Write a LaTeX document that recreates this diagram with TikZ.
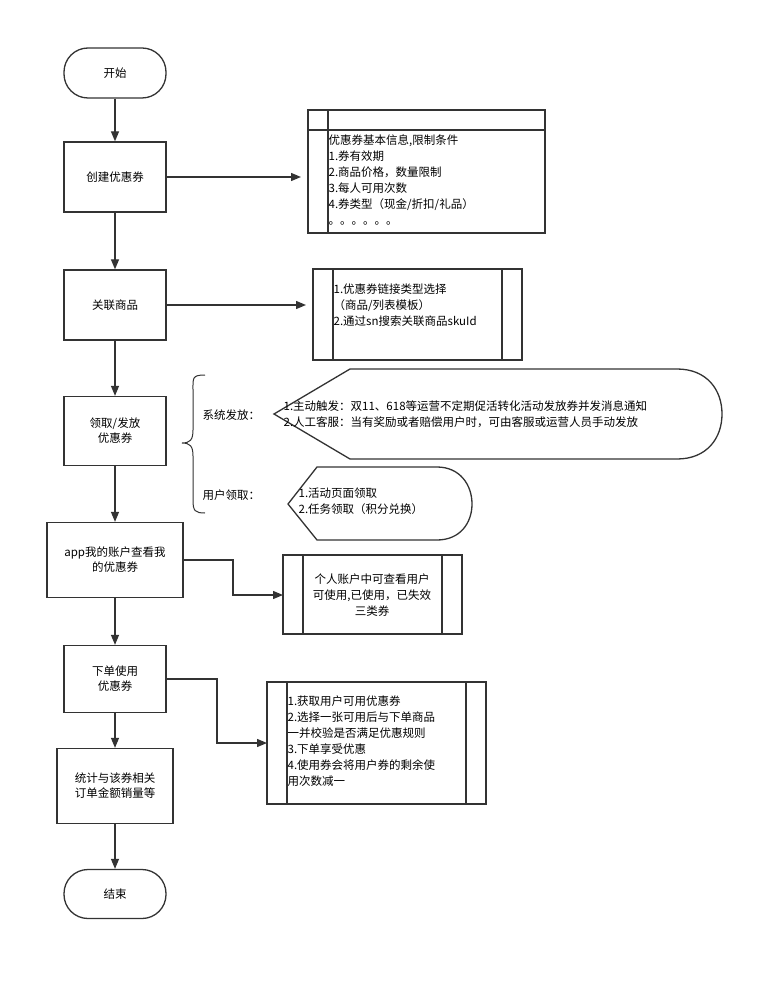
\documentclass[tikz,border=0pt]{standalone}
\usepackage{fontspec}
\setmainfont{Noto Sans CJK SC}
\usetikzlibrary{arrows.meta,decorations.pathreplacing}
\begin{document}
\begin{tikzpicture}[x=1pt,y=-1pt,line width=1.3pt,draw=black!80,
  proc/.style={draw,fill=white,align=center,inner sep=0pt,font=\fontsize{11.5}{15}\selectfont},
  txt/.style={align=left,anchor=north west,inner sep=0pt,font=\fontsize{11.5}{16}\selectfont},
  arr/.style={-{Triangle[length=10pt,width=8pt]},draw=black!80}]
\useasboundingbox (0,0) rectangle (783,981);
\fill[white] (0,0) rectangle (783,981);
% main nodes
\node[proc,rounded corners=24pt,minimum width=102pt,minimum height=50pt] (start) at (115,73) {开始};
\node[proc,minimum width=102pt,minimum height=70pt] (create) at (115,177) {创建优惠券};
\node[proc,minimum width=102pt,minimum height=70pt] (link) at (115,305) {关联商品};
\node[proc,minimum width=102pt,minimum height=69pt] (get) at (115,431) {领取/发放\\优惠券};
\node[proc,minimum width=136pt,minimum height=75pt] (app) at (115,560) {app我的账户查看我\\的优惠券};
\node[proc,minimum width=102pt,minimum height=67pt] (order) at (115,679) {下单使用\\优惠券};
\node[proc,minimum width=116pt,minimum height=75pt] (stat) at (115,786) {统计与该券相关\\订单金额销量等};
\node[proc,rounded corners=24pt,minimum width=102pt,minimum height=49pt] (end) at (115,894) {结束};
\foreach \a/\b in {start/create,create/link,link/get,get/app,app/order,order/stat,stat/end}
  \draw[arr] (\a) -- (\b);
% box1
\draw (308,110) rectangle (545,233);
\draw (308,130) -- (545,130);
\draw (328,110) -- (328,233);
\node[txt] (b1) at (328,134) {优惠券基本信息,限制条件\\1.券有效期\\2.商品价格，数量限制\\3.每人可用次数\\4.券类型（现金/折扣/礼品）\\。。。。。。};
\coordinate (b1in) at (301,177);
\draw[arr] (create.east) -- (b1in);
% box2
\draw (313,269) rectangle (522,360);
\draw (333,269) -- (333,360);
\draw (502,269) -- (502,360);
\node[txt] (b2) at (333,283) {1.优惠券链接类型选择\\（商品/列表模板）\\2.通过sn搜索关联商品skuId};
\coordinate (b2in) at (306,305);
\draw[arr] (link.east) -- (b2in);
% brace
\draw[line width=1pt] (205,375) .. controls (192,375) and (193,378) .. (193,390) -- (193,430)
  .. controls (193,440) and (190,443) .. (182,443) .. controls (190,443) and (193,446) .. (193,456)
  -- (193,500) .. controls (193,511) and (195,513) .. (205,513);
\node[txt,anchor=west] (sys) at (202,415) {系统发放：};
\node[txt,anchor=west] (usr) at (202,495) {用户领取：};
% display shapes
\draw (274,414) -- (350,369) -- (677,369) .. controls (707,369) and (722,390) .. (722,414)
  .. controls (722,438) and (707,459) .. (677,459) -- (350,459) -- cycle;
\node[txt] (d1) at (283,400) {1.主动触发：双11、618等运营不定期促活转化活动发放券并发消息通知\\2.人工客服：当有奖励或者赔偿用户时，可由客服或运营人员手动发放};
\draw (288,504) -- (317,467) -- (437,467) .. controls (460,467) and (472,485) .. (472,504)
  .. controls (472,523) and (460,540) .. (437,540) -- (317,540) -- cycle;
\node[txt] (d2) at (298,487) {1.活动页面领取\\2.任务领取（积分兑换）};
% box3
\draw (283,555) rectangle (462,634);
\draw (303,555) -- (303,634);
\draw (442,555) -- (442,634);
\node[align=center,inner sep=0pt,font=\fontsize{11.5}{16}\selectfont] (b3) at (372,595) {个人账户中可查看用户\\可使用,已使用，已失效\\三类券};
\coordinate (b3in) at (283,595);
\draw[arr] (app.east |- 0,560) -- (233,560) -- (233,595) -- (b3in);
% box4
\draw (267,682) rectangle (486,804);
\draw (287,682) -- (287,804);
\draw (466,682) -- (466,804);
\node[txt] (b4) at (287,695) {1.获取用户可用优惠券\\2.选择一张可用后与下单商品\\一并校验是否满足优惠规则\\3.下单享受优惠\\4.使用券会将用户券的剩余使\\用次数减一};
\coordinate (b4in) at (267,743);
\draw[arr] (order.east |- 0,679) -- (217,679) -- (217,743) -- (b4in);
\end{tikzpicture}
\end{document}
